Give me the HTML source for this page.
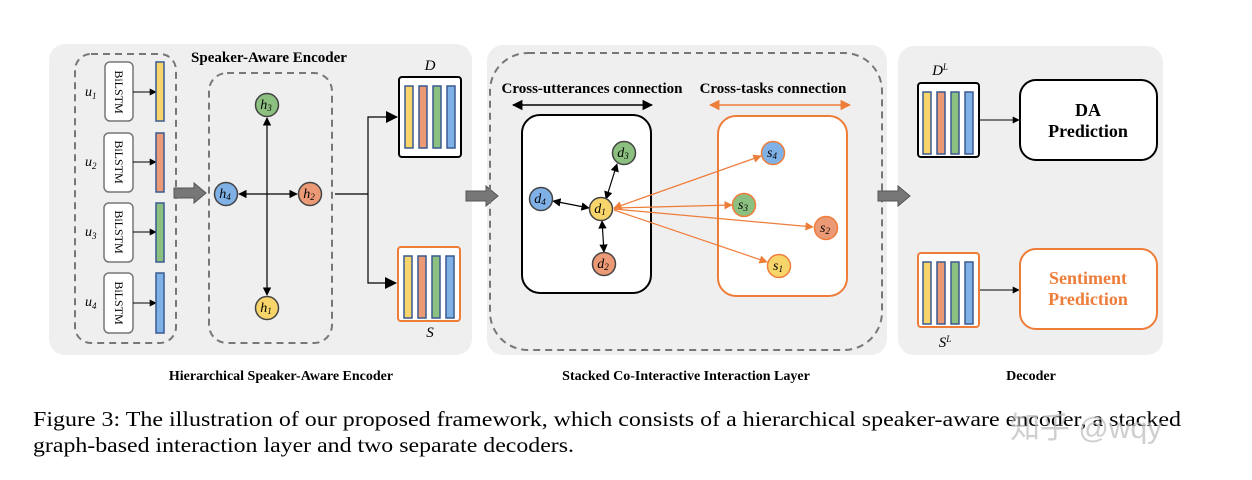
<!DOCTYPE html>
<html><head><meta charset="utf-8"><style>
html,body{margin:0;padding:0;background:#fff;width:1252px;height:480px;overflow:hidden}
svg, svg text{font-family:"Liberation Serif","Times New Roman",Times,serif}
.b{font-weight:bold}
.i{font-style:italic}
</style></head><body>
<svg width="1252" height="480" viewBox="0 0 1252 480" xmlns="http://www.w3.org/2000/svg" font-family="Liberation Serif, Times New Roman, serif">
<defs>
<marker id="ak" viewBox="0 0 10 10" refX="9" refY="5" markerWidth="7" markerHeight="7" orient="auto-start-reverse"><path d="M0,0L10,5L0,10z" fill="#000"/></marker>
<marker id="ao" viewBox="0 0 10 10" refX="9" refY="5" markerWidth="7" markerHeight="7" orient="auto-start-reverse"><path d="M0,0L10,5L0,10z" fill="#ee7d3a"/></marker>
<g id="bars">
<rect x="0" y="0" width="8" height="62" fill="#f7d56a" stroke="#3a5a90" stroke-width="1.5"/>
<rect x="14" y="0" width="8" height="62" fill="#ec9a76" stroke="#3a5a90" stroke-width="1.5"/>
<rect x="28" y="0" width="8" height="62" fill="#8cc080" stroke="#3a5a90" stroke-width="1.5"/>
<rect x="42" y="0" width="8" height="62" fill="#7fb0e6" stroke="#3a5a90" stroke-width="1.5"/>
</g>
<g id="thick"><path d="M0,-5H20V-10L32,0L20,10V5H0z" fill="#777" stroke="#555"/></g>
</defs>
<rect x="49" y="44" width="423" height="311" rx="16" fill="#efefef"/>
<rect x="487" y="45" width="400" height="310" rx="16" fill="#efefef"/>
<rect x="898" y="46" width="265" height="309" rx="16" fill="#efefef"/>

<rect x="75" y="54" width="101" height="289" rx="16" fill="none" stroke="#777" stroke-width="2" stroke-dasharray="7,5"/>
<g font-size="14">
<text x="85" y="96" class="i">u<tspan font-size="9" dy="3">1</tspan></text>
<text x="85" y="166" class="i">u<tspan font-size="9" dy="3">2</tspan></text>
<text x="85" y="236" class="i">u<tspan font-size="9" dy="3">3</tspan></text>
<text x="85" y="306" class="i">u<tspan font-size="9" dy="3">4</tspan></text>
</g>
<g fill="#fff" stroke="#777" stroke-width="1.5">
<rect x="105" y="62" width="28" height="59" rx="5"/>
<rect x="104" y="133" width="29" height="59" rx="5"/>
<rect x="104" y="203" width="29" height="59" rx="5"/>
<rect x="104" y="273" width="29" height="60" rx="5"/>
</g>
<g font-size="12" text-anchor="middle">
<text transform="translate(115,92) rotate(90)">BiLSTM</text>
<text transform="translate(115,162) rotate(90)">BiLSTM</text>
<text transform="translate(115,232) rotate(90)">BiLSTM</text>
<text transform="translate(115,303) rotate(90)">BiLSTM</text>
</g>
<g stroke="#000" stroke-width="1" marker-end="url(#ak)">
<line x1="133" y1="92" x2="156" y2="92"/><line x1="133" y1="162" x2="156" y2="162"/>
<line x1="133" y1="232" x2="156" y2="232"/><line x1="133" y1="303" x2="156" y2="303"/>
</g>
<rect x="156" y="62" width="8" height="59" fill="#f7d56a" stroke="#3a5a90" stroke-width="1.5"/>
<rect x="156" y="133" width="8" height="59" fill="#ec9a76" stroke="#3a5a90" stroke-width="1.5"/>
<rect x="156" y="203" width="8" height="59" fill="#8cc080" stroke="#3a5a90" stroke-width="1.5"/>
<rect x="156" y="273" width="8" height="60" fill="#7fb0e6" stroke="#3a5a90" stroke-width="1.5"/>
<use href="#thick" x="174" y="193"/>
<text x="269" y="62" text-anchor="middle" font-size="15" class="b">Speaker-Aware Encoder</text>
<rect x="209" y="73" width="123" height="270" rx="18" fill="none" stroke="#777" stroke-width="2" stroke-dasharray="7,5"/>
<g stroke="#000" stroke-width="1.2">
<line x1="267" y1="118" x2="267" y2="295" marker-start="url(#ak)" marker-end="url(#ak)"/>
<line x1="239" y1="194" x2="297" y2="194" marker-start="url(#ak)" marker-end="url(#ak)"/>
</g>
<g stroke="#444" stroke-width="1.5">
<circle cx="267" cy="105" r="11.5" fill="#8cc080"/><circle cx="226" cy="194" r="11.5" fill="#7fb0e6"/>
<circle cx="310" cy="194" r="11.5" fill="#ec9a76"/><circle cx="267" cy="308" r="11.5" fill="#f7d56a"/>
</g>
<g font-size="14" class="i" text-anchor="middle">
<text x="266" y="109">h<tspan font-size="9" dy="2">3</tspan></text>
<text x="225" y="198">h<tspan font-size="9" dy="2">4</tspan></text>
<text x="309" y="198">h<tspan font-size="9" dy="2">2</tspan></text>
<text x="266" y="312">h<tspan font-size="9" dy="2">1</tspan></text>
</g>
<path d="M335,194H368V117H397M368,194V283H396" fill="none" stroke="#000" stroke-width="1.2"/>
<path d="M386,111L398,117L386,123z M385,277L397,283L385,289z" fill="#000"/>
<rect x="399" y="77" width="62" height="80" rx="3" fill="#fff" stroke="#000" stroke-width="2"/>
<use href="#bars" x="405" y="86"/>
<rect x="398" y="247" width="62" height="74" rx="3" fill="#fff" stroke="#ee7d3a" stroke-width="2"/>
<use href="#bars" x="404" y="256"/>
<text x="430" y="70" font-size="15" class="i" text-anchor="middle">D</text>
<text x="430" y="337" font-size="15" class="i" text-anchor="middle">S</text>
<text x="281" y="380" font-size="14" class="b" text-anchor="middle">Hierarchical Speaker-Aware Encoder</text>

<use href="#thick" x="466" y="196"/>
<rect x="490" y="53" width="392" height="297" rx="38" fill="none" stroke="#777" stroke-width="2" stroke-dasharray="7,5"/>
<text x="592" y="93" font-size="15" class="b" text-anchor="middle">Cross-utterances connection</text>
<text x="773" y="93" font-size="15" class="b" text-anchor="middle">Cross-tasks connection</text>
<line x1="513" y1="105" x2="652" y2="105" stroke="#000" stroke-width="1.5" marker-start="url(#ak)" marker-end="url(#ak)"/>
<line x1="710" y1="105" x2="850" y2="105" stroke="#ee7d3a" stroke-width="1.5" marker-start="url(#ao)" marker-end="url(#ao)"/>
<rect x="522" y="115" width="129" height="178" rx="18" fill="#fff" stroke="#000" stroke-width="2"/>
<rect x="718" y="116" width="129" height="180" rx="18" fill="#fff" stroke="#ee7d3a" stroke-width="2"/>
<g stroke="#000" stroke-width="1.2" marker-start="url(#ak)" marker-end="url(#ak)">
<line x1="606" y1="199" x2="617" y2="164"/>
<line x1="553" y1="201" x2="589" y2="208"/>
<line x1="602" y1="221" x2="604" y2="252"/>
</g>
<g stroke="#ee7d3a" stroke-width="1.2">
<line x1="614" y1="208" x2="761" y2="156" marker-start="url(#ao)" marker-end="url(#ao)"/>
<line x1="614" y1="208" x2="732" y2="205" marker-end="url(#ao)"/>
<line x1="614" y1="209" x2="813" y2="227" marker-end="url(#ao)"/>
<line x1="614" y1="210" x2="767" y2="262" marker-end="url(#ao)"/>
</g>
<g stroke="#444" stroke-width="1.5">
<circle cx="624" cy="153" r="11.5" fill="#8cc080"/><circle cx="541" cy="199" r="11.5" fill="#7fb0e6"/>
<circle cx="601" cy="209" r="11.5" fill="#f7d56a"/><circle cx="604" cy="264" r="11.5" fill="#ec9a76"/>
</g>
<g stroke="#ee7d3a" stroke-width="1.5">
<circle cx="773" cy="153" r="11.5" fill="#7fb0e6"/><circle cx="744" cy="205" r="11.5" fill="#8cc080"/>
<circle cx="826" cy="228" r="11.5" fill="#ec9a76"/><circle cx="779" cy="266" r="11.5" fill="#f7d56a"/>
</g>
<g font-size="14" class="i" text-anchor="middle">
<text x="623" y="157">d<tspan font-size="9" dy="2">3</tspan></text>
<text x="540" y="203">d<tspan font-size="9" dy="2">4</tspan></text>
<text x="600" y="213">d<tspan font-size="9" dy="2">1</tspan></text>
<text x="603" y="268">d<tspan font-size="9" dy="2">2</tspan></text>
<text x="772" y="157">s<tspan font-size="9" dy="2">4</tspan></text>
<text x="743" y="209">s<tspan font-size="9" dy="2">3</tspan></text>
<text x="825" y="232">s<tspan font-size="9" dy="2">2</tspan></text>
<text x="778" y="270">s<tspan font-size="9" dy="2">1</tspan></text>
</g>
<text x="686" y="380" font-size="14" class="b" text-anchor="middle">Stacked Co-Interactive Interaction Layer</text>

<use href="#thick" x="878" y="196"/>
<rect x="918" y="83" width="61" height="74" rx="3" fill="#fff" stroke="#000" stroke-width="2"/>
<use href="#bars" x="923" y="92"/>
<rect x="918" y="253" width="61" height="74" rx="3" fill="#fff" stroke="#ee7d3a" stroke-width="2"/>
<use href="#bars" x="923" y="262"/>
<text x="940" y="75" font-size="15" class="i" text-anchor="middle">D<tspan font-size="9" dy="-5">L</tspan></text>
<text x="945" y="347" font-size="15" class="i" text-anchor="middle">S<tspan font-size="9" dy="-5">L</tspan></text>
<g stroke="#000" stroke-width="1" marker-end="url(#ak)">
<line x1="980" y1="120" x2="1019" y2="120"/><line x1="980" y1="290" x2="1019" y2="290"/>
</g>
<rect x="1020" y="80" width="137" height="80" rx="16" fill="#fff" stroke="#000" stroke-width="2"/>
<rect x="1020" y="249" width="137" height="80" rx="16" fill="#fff" stroke="#ee7d3a" stroke-width="2"/>
<g font-size="18" class="b" text-anchor="middle">
<text x="1088" y="116">DA</text><text x="1088" y="137">Prediction</text>
<text x="1088" y="284" fill="#ee7d3a">Sentiment</text><text x="1088" y="305" fill="#ee7d3a">Prediction</text>
</g>
<text x="1031" y="380" font-size="14" class="b" text-anchor="middle">Decoder</text>

<text x="33" y="426" font-size="21" textLength="1148" lengthAdjust="spacingAndGlyphs">Figure 3:  The illustration of our proposed framework, which consists of a hierarchical speaker-aware encoder, a stacked</text>
<text x="33" y="452" font-size="21" textLength="541" lengthAdjust="spacingAndGlyphs">graph-based interaction layer and two separate decoders.</text>
<text x="1010" y="438" font-size="30" fill="#bbb" fill-opacity="0.7" font-family="Liberation Sans, Noto Sans CJK SC, sans-serif" style="font-family:'Liberation Sans','Noto Sans CJK SC',sans-serif">知乎 @wqy</text>
</svg>
</body></html>
